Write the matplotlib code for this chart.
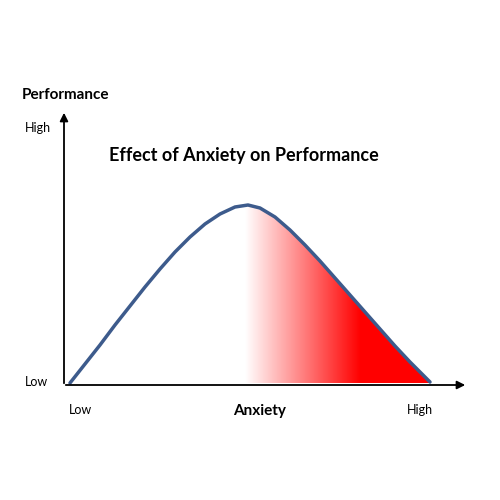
import matplotlib
matplotlib.use("Agg")
import matplotlib.pyplot as plt
import numpy as np
from matplotlib.patches import Polygon

plt.rcParams['font.family'] = ['Lato', 'DejaVu Sans']

# curve points (pixel-like coordinates, y downward)
curve_x = [70, 85, 100, 115, 130, 145, 160, 175, 190, 205, 220, 235, 248, 260, 275, 290, 305, 320, 335, 350, 365, 380, 395, 410, 420, 430]
curve_y = [383, 364, 345, 325, 306, 287, 269, 252, 237, 224, 214, 207, 205, 208, 217, 230, 245, 261, 278, 295, 312, 329, 346, 362, 372, 382]
fill_start = 245
curve_color = '#3D5B8C'

fig = plt.figure(figsize=(5, 5), dpi=100)
ax = fig.add_axes([0, 0, 1, 1])
ax.set_xlim(0, 500); ax.set_ylim(500, 0); ax.axis('off')

cx = np.array(curve_x, float); cy = np.array(curve_y, float)
m = cx >= fill_start
px = np.concatenate([[fill_start], cx[m], [cx[m][-1], fill_start]])
py = np.concatenate([[np.interp(fill_start, cx, cy)], cy[m], [383, 383]])
poly = Polygon(np.column_stack([px, py]), closed=True, facecolor='none', edgecolor='none')
ax.add_patch(poly)
grad = np.linspace(0, 1, 256)
img = np.ones((2, 256, 3))
img[:, :, 1] = 1 - np.clip(grad * 1.6, 0, 1)
img[:, :, 2] = 1 - np.clip(grad * 1.6, 0, 1)
im = ax.imshow(img, extent=[fill_start, 430, 383, 200], aspect='auto', zorder=1)
im.set_clip_path(poly)

ax.plot(curve_x, curve_y, color=curve_color, lw=2.5, zorder=3, solid_capstyle='round', solid_joinstyle='round')

ax.annotate('', xy=(64, 110), xytext=(64, 386), arrowprops=dict(arrowstyle='-|>', color='black', lw=1.3, mutation_scale=12))
ax.annotate('', xy=(468, 385), xytext=(63, 385), arrowprops=dict(arrowstyle='-|>', color='black', lw=1.3, mutation_scale=12))

ax.text(22, 95, 'Performance', fontsize=11, fontweight='bold', va='center')
ax.text(25, 128, 'High', fontsize=9, va='center')
ax.text(25, 382, 'Low', fontsize=9, va='center')
ax.text(69, 410, 'Low', fontsize=9, va='center')
ax.text(407, 410, 'High', fontsize=9, va='center')
ax.text(260, 411, 'Anxiety', fontsize=11, fontweight='bold', ha='center', va='center')
ax.text(244, 156, 'Effect of Anxiety on Performance', fontsize=13, fontweight='bold', ha='center', va='center')

fig.savefig('out.png', dpi=100)
